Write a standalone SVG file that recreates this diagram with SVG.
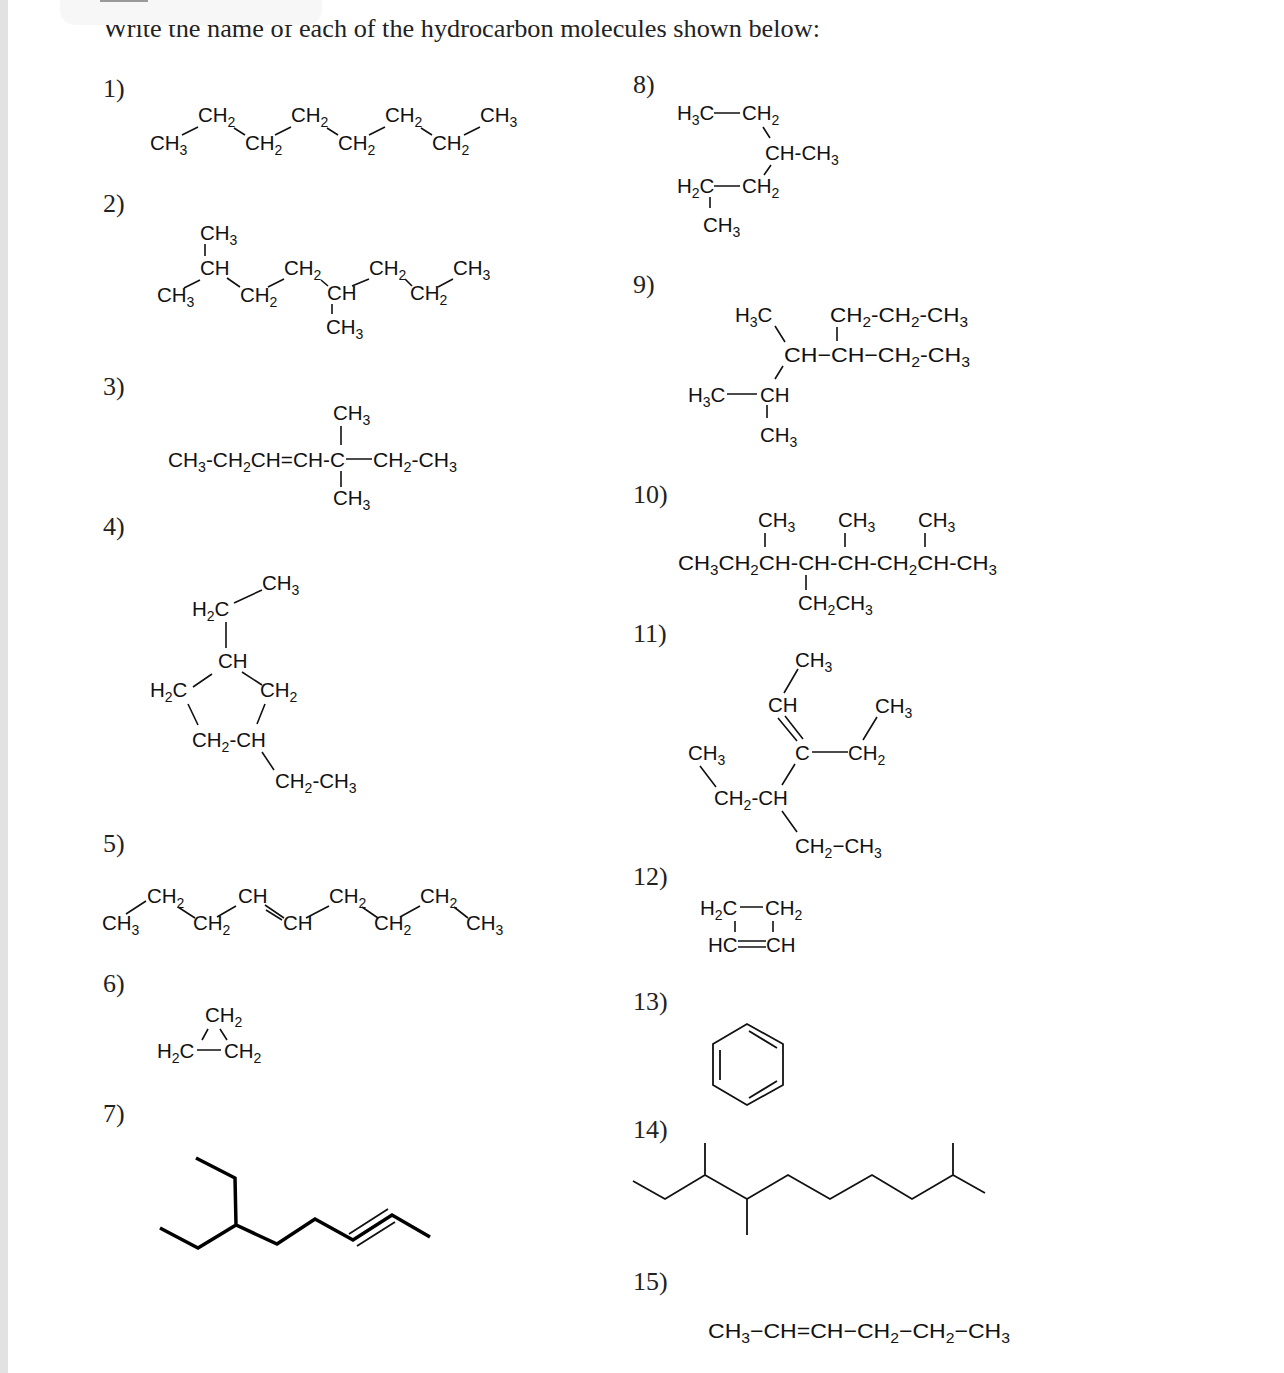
<svg xmlns="http://www.w3.org/2000/svg" width="1284" height="1373" viewBox="0 0 1284 1373">
<style>
.t{font-family:"Liberation Sans",Arial,sans-serif;font-size:20.5px;fill:#111}
.s{font-size:14px;baseline-shift:-5px}
.n{font-family:"Liberation Serif","DejaVu Serif",serif;font-size:26px;fill:#222}
.b{stroke:#111;stroke-width:1.6;fill:none}
.k{stroke:#000;stroke-width:3.5;fill:none;stroke-linejoin:miter}
.h{stroke:#111;stroke-width:1.8;fill:none}
</style>
<rect width="1284" height="1373" fill="#fff"/>
<rect x="0" y="0" width="8" height="1373" fill="#e2e2e2"/>
<text class="n" x="103" y="37" textLength="717" lengthAdjust="spacingAndGlyphs">Write the name of each of the hydrocarbon molecules shown below:</text>
<rect x="60" y="-20" width="262" height="45" rx="15" fill="#f7f7f7"/>
<rect x="100" y="0" width="48" height="2" fill="#999"/>
<g id="numbers">
<text class="n" x="103" y="97">1)</text><text class="n" x="103" y="212">2)</text><text class="n" x="103" y="395">3)</text><text class="n" x="103" y="535">4)</text><text class="n" x="103" y="852">5)</text><text class="n" x="103" y="992">6)</text><text class="n" x="103" y="1122">7)</text>
<text class="n" x="633" y="93">8)</text><text class="n" x="633" y="293">9)</text><text class="n" x="633" y="503">10)</text><text class="n" x="633" y="642">11)</text><text class="n" x="633" y="885">12)</text><text class="n" x="633" y="1010">13)</text><text class="n" x="633" y="1138">14)</text><text class="n" x="633" y="1290">15)</text>
</g>
<g id="m1">
<text class="t" x="150" y="150">CH<tspan class="s">3</tspan></text>
<text class="t" x="198" y="122">CH<tspan class="s">2</tspan></text>
<text class="t" x="245" y="150">CH<tspan class="s">2</tspan></text>
<text class="t" x="291" y="122">CH<tspan class="s">2</tspan></text>
<text class="t" x="338" y="150">CH<tspan class="s">2</tspan></text>
<text class="t" x="385" y="122">CH<tspan class="s">2</tspan></text>
<text class="t" x="432" y="150">CH<tspan class="s">2</tspan></text>
<text class="t" x="480" y="122">CH<tspan class="s">3</tspan></text>
<path class="b" d="M182,135 L198,127 M234,128 L245,135 M275,135 L291,127 M327,128 L338,135 M369,135 L385,127 M421,128 L432,135 M464,135 L480,127"/>
</g>
<g id="m2">
<text class="t" x="200" y="240">CH<tspan class="s">3</tspan></text>
<path class="b" d="M205,244 V256"/>
<text class="t" x="200" y="275">CH</text>
<text class="t" x="157" y="302">CH<tspan class="s">3</tspan></text>
<text class="t" x="240" y="302">CH<tspan class="s">2</tspan></text>
<text class="t" x="284" y="275">CH<tspan class="s">2</tspan></text>
<text class="t" x="327" y="300">CH</text>
<path class="b" d="M332,304 V314"/>
<text class="t" x="326" y="334">CH<tspan class="s">3</tspan></text>
<text class="t" x="369" y="275">CH<tspan class="s">2</tspan></text>
<text class="t" x="410" y="300">CH<tspan class="s">2</tspan></text>
<text class="t" x="453" y="275">CH<tspan class="s">3</tspan></text>
<path class="b" d="M184,288 L200,280 M227,278 L240,287 M268,287 L284,279 M321,280 L328,286 M352,286 L369,279 M405,279 L412,286 M438,287 L453,279"/>
</g>
<g id="m3">
<text class="t" x="333" y="420">CH<tspan class="s">3</tspan></text>
<path class="b" d="M341,426 V445 M341,471 V487 M346,459 H372"/>
<text class="t" x="168" y="467" textLength="177" lengthAdjust="spacingAndGlyphs">CH<tspan class="s">3</tspan>-CH<tspan class="s">2</tspan>CH=CH-C</text>
<text class="t" x="373" y="467" textLength="84" lengthAdjust="spacingAndGlyphs">CH<tspan class="s">2</tspan>-CH<tspan class="s">3</tspan></text>
<text class="t" x="333" y="505">CH<tspan class="s">3</tspan></text>
</g>
<g id="m4">
<text class="t" x="262" y="590">CH<tspan class="s">3</tspan></text>
<text class="t" x="192" y="616">H<tspan class="s">2</tspan>C</text>
<text class="t" x="218" y="668">CH</text>
<text class="t" x="150" y="697">H<tspan class="s">2</tspan>C</text>
<text class="t" x="260" y="697">CH<tspan class="s">2</tspan></text>
<text class="t" x="192" y="747">CH<tspan class="s">2</tspan>-CH</text>
<text class="t" x="275" y="788">CH<tspan class="s">2</tspan>-CH<tspan class="s">3</tspan></text>
<path class="b" d="M234,603 L262,590 M226,622 V648 M193,687 L212,674 M242,672 L262,685 M188,704 L198,725 M265,704 L257,724 M262,752 L274,770"/>
</g>
<g id="m5">
<text class="t" x="102" y="930">CH<tspan class="s">3</tspan></text>
<text class="t" x="147" y="903">CH<tspan class="s">2</tspan></text>
<text class="t" x="193" y="930">CH<tspan class="s">2</tspan></text>
<text class="t" x="238" y="903">CH</text>
<text class="t" x="283" y="930">CH</text>
<text class="t" x="329" y="903">CH<tspan class="s">2</tspan></text>
<text class="t" x="374" y="930">CH<tspan class="s">2</tspan></text>
<text class="t" x="420" y="903">CH<tspan class="s">2</tspan></text>
<text class="t" x="466" y="930">CH<tspan class="s">3</tspan></text>
<path class="b" d="M126,914 L146,901 M178,907 L195,918 M217,917 L236,906 M265,905 L284,918 M266,910 L282,920 M306,918 L329,906 M362,907 L378,918 M400,917 L420,906 M454,907 L468,918"/>
</g>
<g id="m6">
<text class="t" x="205" y="1022">CH<tspan class="s">2</tspan></text>
<text class="t" x="157" y="1058">H<tspan class="s">2</tspan>C</text>
<text class="t" x="224" y="1058">CH<tspan class="s">2</tspan></text>
<path class="b" d="M208,1029 L202,1040 M220,1029 L227,1040 M197,1050 H221"/>
</g>
<g id="m7">
<path class="k" d="M196,1158 L235,1178 L236,1225 M160,1228 L198,1248 L236,1225 L277,1244 L315,1219 L353,1240 L392,1215 L430,1237"/>
<path class="h" d="M357,1246 L395,1222 M349,1234 L388,1209"/>
</g>
<g id="m8">
<text class="t" x="677" y="120">H<tspan class="s">3</tspan>C</text>
<text class="t" x="742" y="120">CH<tspan class="s">2</tspan></text>
<text class="t" x="765" y="160">CH-CH<tspan class="s">3</tspan></text>
<text class="t" x="677" y="193">H<tspan class="s">2</tspan>C</text>
<text class="t" x="742" y="193">CH<tspan class="s">2</tspan></text>
<text class="t" x="703" y="232">CH<tspan class="s">3</tspan></text>
<path class="b" d="M714,113 H740 M763,127 L770,138 M771,165 L764,175 M714,186 H740 M710,197 V208"/>
</g>
<g id="m9">
<text class="t" x="735" y="322">H<tspan class="s">3</tspan>C</text>
<text class="t" x="830" y="322" textLength="138" lengthAdjust="spacingAndGlyphs">CH<tspan class="s">2</tspan>-CH<tspan class="s">2</tspan>-CH<tspan class="s">3</tspan></text>
<text class="t" x="784" y="362" textLength="186" lengthAdjust="spacingAndGlyphs">CH−CH−CH<tspan class="s">2</tspan>-CH<tspan class="s">3</tspan></text>
<text class="t" x="688" y="402">H<tspan class="s">3</tspan>C</text>
<text class="t" x="760" y="402">CH</text>
<text class="t" x="760" y="442">CH<tspan class="s">3</tspan></text>
<path class="b" d="M775,326 L785,342 M837,327 V341 M783,366 L775,379 M727,394 H757 M767,405 V418"/>
</g>
<g id="m10">
<text class="t" x="758" y="527">CH<tspan class="s">3</tspan></text>
<text class="t" x="838" y="527">CH<tspan class="s">3</tspan></text>
<text class="t" x="918" y="527">CH<tspan class="s">3</tspan></text>
<text class="t" x="678" y="570" textLength="319" lengthAdjust="spacingAndGlyphs">CH<tspan class="s">3</tspan>CH<tspan class="s">2</tspan>CH-CH-CH-CH<tspan class="s">2</tspan>CH-CH<tspan class="s">3</tspan></text>
<text class="t" x="798" y="610">CH<tspan class="s">2</tspan>CH<tspan class="s">3</tspan></text>
<path class="b" d="M765,533 V547 M845,533 V547 M925,533 V547 M806,575 V590"/>
</g>
<g id="m11">
<text class="t" x="795" y="667">CH<tspan class="s">3</tspan></text>
<text class="t" x="768" y="712">CH</text>
<text class="t" x="875" y="713">CH<tspan class="s">3</tspan></text>
<text class="t" x="795" y="760">C</text>
<text class="t" x="848" y="760">CH<tspan class="s">2</tspan></text>
<text class="t" x="688" y="760">CH<tspan class="s">3</tspan></text>
<text class="t" x="714" y="805">CH<tspan class="s">2</tspan>-CH</text>
<text class="t" x="795" y="853">CH<tspan class="s">2</tspan>−CH<tspan class="s">3</tspan></text>
<path class="b" d="M798,669 L784,693 M778,718 L797,741 M785,716 L803,739 M812,752 H848 M877,717 L863,740 M700,766 L716,787 M795,764 L782,785 M782,811 L797,832"/>
</g>
<g id="m12">
<text class="t" x="700" y="915">H<tspan class="s">2</tspan>C</text>
<text class="t" x="765" y="915">CH<tspan class="s">2</tspan></text>
<text class="t" x="708" y="952">HC</text>
<text class="t" x="766" y="952">CH</text>
<path class="b" d="M740,907 H763 M735,921 V932 M773,921 V932 M738,941 H766 M738,947 H766"/>
</g>
<g id="m13">
<path class="h" d="M747,1024 L783,1044 L783,1085 L747,1105 L713,1085 L713,1044 Z M720,1050 V1080 M749,1031 L777,1048 M777,1081 L749,1098"/>
</g>
<g id="m14">
<path class="h" d="M633,1181 L665,1199 L705,1175 L747,1199 L788,1175 L830,1199 L872,1175 L912,1199 L953,1175 L985,1193 M705,1175 V1143 M747,1199 V1235 M953,1175 V1143"/>
</g>
<g id="m15">
<text class="t" x="708" y="1338" textLength="302" lengthAdjust="spacingAndGlyphs">CH<tspan class="s">3</tspan>−CH=CH−CH<tspan class="s">2</tspan>−CH<tspan class="s">2</tspan>−CH<tspan class="s">3</tspan></text>
</g>
</svg>
